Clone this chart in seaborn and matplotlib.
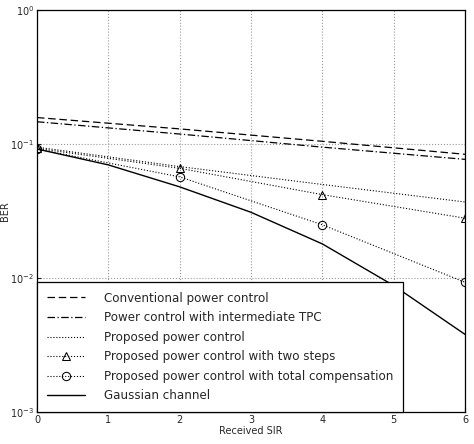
import matplotlib
matplotlib.use("Agg")
import matplotlib.pyplot as plt
import seaborn as sns

sns.set_style("white")
plt.rcParams["font.family"] = ["DejaVu Sans"]

sir = [0, 2, 4, 6]
conventional = [0.158, 0.13, 0.105, 0.084]
intermediate = [0.147, 0.119, 0.095, 0.077]
proposed = [0.095, 0.068, 0.05, 0.037]
two_steps = [0.093, 0.066, 0.042, 0.028]
total_comp = [0.092, 0.057, 0.025, 0.0093]
sir_gauss = [0, 1, 2, 3, 4, 5, 6]
gaussian = [0.092, 0.070, 0.048, 0.031, 0.018, 0.0088, 0.0038]

fig = plt.figure(figsize=(4.74, 4.44), dpi=100)
ax = fig.add_axes([0.078, 0.072, 0.903, 0.905])

sns.lineplot(x=sir, y=conventional, ax=ax, color="black", lw=0.9,
             linestyle=(0, (6, 3)), label="Conventional power control")
sns.lineplot(x=sir, y=intermediate, ax=ax, color="black", lw=0.9,
             linestyle=(0, (6, 2, 1, 2)), label="Power control with intermediate TPC")
sns.lineplot(x=sir, y=proposed, ax=ax, color="black", lw=0.8,
             linestyle=":", label="Proposed power control")
sns.lineplot(x=sir, y=two_steps, ax=ax, color="black", lw=0.8, linestyle=":",
             marker="^", markersize=6, markerfacecolor="none", markeredgecolor="black",
             label="Proposed power control with two steps")
sns.lineplot(x=sir, y=total_comp, ax=ax, color="black", lw=0.8, linestyle=":",
             marker="o", markersize=6, markerfacecolor="none", markeredgecolor="black",
             label="Proposed power control with total compensation")
sns.lineplot(x=sir_gauss, y=gaussian, ax=ax, color="black", lw=1.0,
             label="Gaussian channel")

ax.set_yscale("log")
ax.set_xlim(0, 6)
ax.set_ylim(1e-3, 1)
ax.set_xticks(range(7))
ax.grid(True, which="major", color="#999999", linestyle=":", lw=0.8)
ax.minorticks_off()
ax.tick_params(labelsize=7, direction="in", length=3, left=True, bottom=True, pad=2)
for s in ax.spines.values():
    s.set_color("black")
    s.set_linewidth(0.9)
ax.set_xlabel("Received SIR", fontsize=7, labelpad=1)
ax.set_ylabel("BER", fontsize=7, labelpad=0)

leg = ax.legend(loc="lower left", bbox_to_anchor=(0, 0), fontsize=8.6,
                frameon=True, fancybox=False, borderaxespad=0,
                handlelength=3.2, handletextpad=1.6, borderpad=0.8,
                labelspacing=0.55)
leg.get_frame().set_edgecolor("black")
leg.get_frame().set_linewidth(0.9)
leg.get_frame().set_alpha(1)

fig.savefig("out.png", dpi=100)
